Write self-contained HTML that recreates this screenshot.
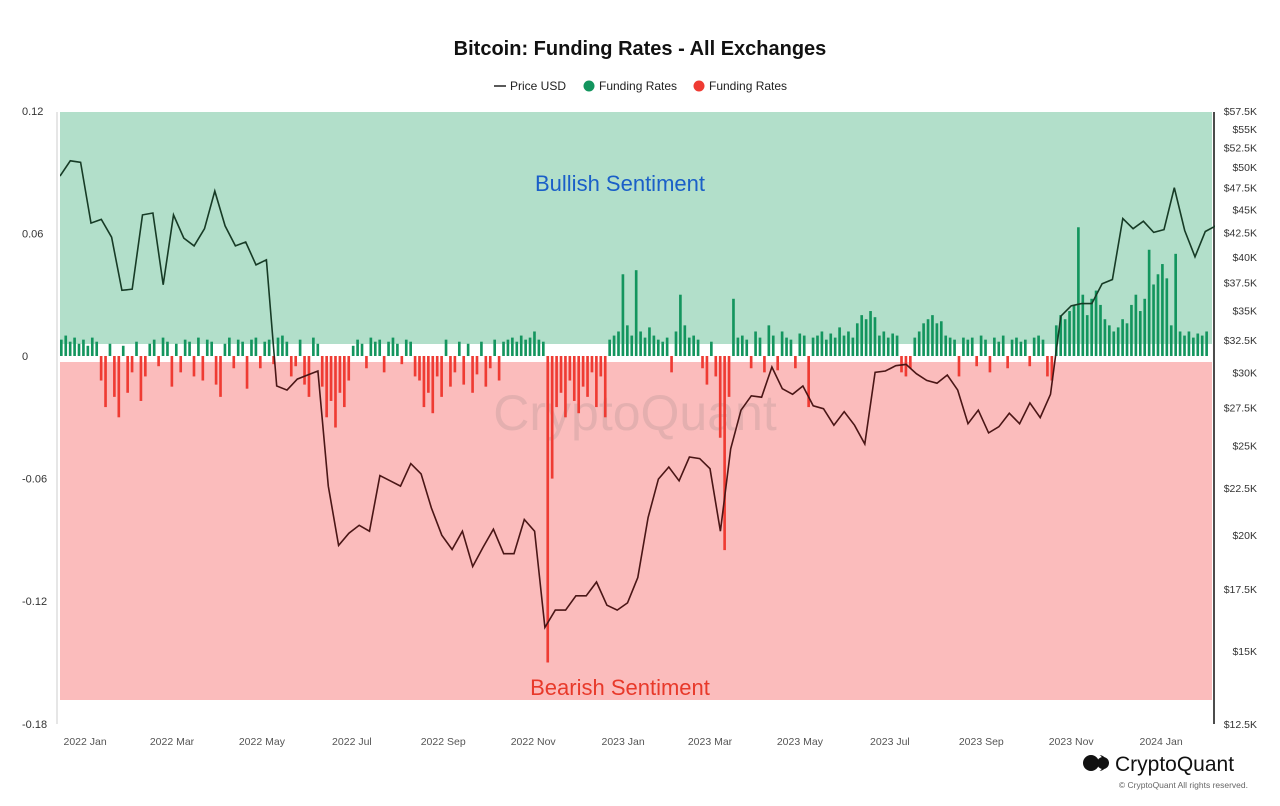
<!DOCTYPE html>
<html><head><meta charset="utf-8">
<style>
html,body{margin:0;padding:0;background:#fff;}
svg{display:block;font-family:"Liberation Sans",Arial,sans-serif;}
</style></head>
<body>
<svg id="chart" width="1280" height="806" viewBox="0 0 1280 806">
  <defs>
    <clipPath id="clipTop"><rect x="60" y="100" width="1155" height="256"/></clipPath>
    <clipPath id="clipBot"><rect x="60" y="356" width="1155" height="380"/></clipPath>
  </defs>
  <text x="640" y="55" text-anchor="middle" font-size="20" font-weight="bold" fill="#111">Bitcoin: Funding Rates - All Exchanges</text>
  <g font-size="12" fill="#222">
    <g><line x1="494" y1="86" x2="506" y2="86" stroke="#222" stroke-width="1.5"/><text x="510" y="90">Price USD</text></g>
    <g><circle cx="589" cy="86" r="5.5" fill="#13955e"/><text x="599" y="90">Funding Rates</text></g>
    <g><circle cx="699" cy="86" r="5.5" fill="#ef3b33"/><text x="709" y="90">Funding Rates</text></g>
  </g>
  <rect x="60" y="112" width="1152" height="232" fill="#b2dfca"/>
  <rect x="60" y="362" width="1152" height="338" fill="#fbbcbc"/>
  <line x1="57" y1="112" x2="57" y2="724" stroke="#ccc" stroke-width="1"/>
  <line x1="1214" y1="112" x2="1214" y2="724" stroke="#111" stroke-width="1.5"/>
  <text x="620" y="191" text-anchor="middle" font-size="22" fill="#1a5fc8">Bullish Sentiment</text>
  <text x="620" y="695" text-anchor="middle" font-size="22" fill="#e8392a">Bearish Sentiment</text>
  <text x="635" y="430" text-anchor="middle" font-size="50" fill="#c9a0a0" opacity="0.45">CryptoQuant</text>
  <g id="bars"></g>
  <g id="price"></g>
  <g id="leftAxis" font-size="11" fill="#333"></g>
  <g id="rightAxis" font-size="10.5" fill="#333"></g>
  <g id="xAxis" font-size="10.5" fill="#555"></g>
  <g>
    <circle cx="1091" cy="763" r="8" fill="#111"/>
    <path d="M1099 755 a8 8 0 0 1 0 16 a4 8 0 0 0 0 -16z" fill="#111"/>
    <circle cx="1103" cy="763" r="6" fill="#111"/>
    <text x="1115" y="771" font-size="21" fill="#111">CryptoQuant</text>
    <text x="1248" y="788" text-anchor="end" font-size="8.5" fill="#666">© CryptoQuant All rights reserved.</text>
  </g>
</svg>
<script>
// Funding rates (x0.001), 3-day bins starting 2021-12-15
const fundingRates = [8,10,7,9,6,8,5,9,7,
-12,-25,6,-20,-30,5,-18,-8,7,-22,-10,
6,8,-5,9,7,-15,6,-8,8,7,-10,
9,-12,8,7,-14,-20,6,9,-6,8,
7,-16,8,9,-6,7,8,-4,9,10,
7,-10,-5,8,-14,-20,9,6,
-15,-30,-22,-35,-18,-25,-12,5,
8,6,-6,9,7,8,-8,7,9,6,-4,8,7,-10,
-12,-25,-18,-28,-10,-20,8,-15,-8,7,
-14,6,-18,-9,7,-15,-6,8,-12,7,
8,9,7,10,8,9,12,8,7,
-150,-60,-25,-18,-30,-12,-22,-28,-15,-20,-8,-25,-10,-30,
8,10,12,40,15,10,42,12,9,14,10,8,
7,9,-8,12,30,15,9,10,8,-6,-14,7,-10,-40,-95,-20,28,
9,10,8,-6,12,9,-8,15,10,-7,12,9,8,-6,11,10,-25,
9,10,12,8,11,9,14,10,12,9,16,20,18,22,19,10,12,9,11,10,
-8,-10,-6,
9,12,16,18,20,16,17,10,9,8,-10,9,
8,9,-5,10,8,-8,9,7,10,-6,8,9,7,8,-5,9,10,8,-10,-12,
15,20,18,22,25,63,30,20,28,32,25,18,15,12,14,18,16,25,30,22,28,52,35,40,45,38,15,50,12,10,12,9,11,10,12];
// Weekly BTC price (USD thousands), starting 2021-12-15
const priceK = [48.9,50.8,50.6,43.5,43.9,42.0,36.8,36.9,44.4,44.6,37.3,44.4,41.9,41.1,42.9,47.1,43.2,41.1,41.5,39.2,39.7,29.0,28.7,29.5,29.8,30.1,22.6,19.5,20.1,20.5,20.2,23.2,22.9,22.6,23.9,23.3,21.4,20.0,19.3,20.2,18.5,19.4,20.3,19.1,19.1,20.8,20.2,15.9,16.6,16.6,17.2,17.2,17.8,16.8,16.6,16.9,18.0,20.9,23.0,23.7,22.9,24.3,24.2,23.6,20.2,24.8,27.3,28.3,28.2,30.4,28.8,28.4,29.0,27.6,27.4,26.3,27.2,26.3,25.1,30.0,30.1,30.5,30.6,29.9,29.4,29.2,29.8,28.7,26.4,27.3,25.8,26.2,27.1,26.4,27.8,26.8,28.4,34.5,35.4,35.6,35.6,37.4,37.8,44.0,42.9,43.7,42.5,42.8,47.5,42.7,40.0,42.6,43.2];
const leftTicks = [0.12,0.06,0,-0.06,-0.12,-0.18];
const leftTickLabels = ["0.12","0.06","0","-0.06","-0.12","-0.18"];
const rightTicks = [57.5,55,52.5,50,47.5,45,42.5,40,37.5,35,32.5,30,27.5,25,22.5,20,17.5,15,12.5];
const xTickLabels = ["2022 Jan","2022 Mar","2022 May","2022 Jul","2022 Sep","2022 Nov","2023 Jan","2023 Mar","2023 May","2023 Jul","2023 Sep","2023 Nov","2024 Jan"];
const xTickDays = [17,76,137,198,260,321,382,441,502,563,625,686,747]; // days since 2021-12-15

const NS="http://www.w3.org/2000/svg";
const X0=60, PXDAY=1.474;
function xDay(d){return X0+d*PXDAY;}
function yRate(r){return 356-r/0.06*122.6;}
function yPrice(k){return 111+Math.log(57.5/k)/Math.log(57.5/12.5)*613;}
function mk(tag,attrs,parent){const e=document.createElementNS(NS,tag);for(const k in attrs)e.setAttribute(k,attrs[k]);parent.appendChild(e);return e;}

const barsG=document.getElementById('bars');
fundingRates.forEach((v,i)=>{
  const r=v/1000, x=xDay(i*3), y0=yRate(0), y1=yRate(r);
  const b=mk('rect',{x:x.toFixed(2),y:Math.min(y0,y1).toFixed(2),width:(3*PXDAY*0.6).toFixed(2),height:Math.abs(y1-y0).toFixed(2),fill:r>=0?'#13955e':'#ef3b33'},barsG);
  
  
});

const pg=document.getElementById('price');
let d='';
priceK.forEach((p,i)=>{d+=(i?'L':'M')+xDay(i*7).toFixed(1)+' '+yPrice(p).toFixed(1);});
const l1=mk('path',{d:d,fill:'none',stroke:'#173b26',"stroke-width":1.6,"clip-path":"url(#clipTop)"},pg);


const l2=mk('path',{d:d,fill:'none',stroke:'#4a1616',"stroke-width":1.6,"clip-path":"url(#clipBot)"},pg);



const la=document.getElementById('leftAxis');
leftTicks.forEach((t,i)=>{
  const e=mk('text',{x:22,y:(yRate(t)+4).toFixed(1)},la);e.textContent=leftTickLabels[i];
  
  
});
const ra=document.getElementById('rightAxis');
rightTicks.forEach(t=>{
  const e=mk('text',{x:1257,y:(yPrice(t)+4).toFixed(1),"text-anchor":"end"},ra);
  e.textContent='$'+t+'K';
  
  
});
const xa=document.getElementById('xAxis');
xTickLabels.forEach((t,i)=>{
  const e=mk('text',{x:xDay(xTickDays[i]).toFixed(1),y:745,"text-anchor":"middle"},xa);
  e.textContent=t;
  
  
});
</script>
</body></html>
